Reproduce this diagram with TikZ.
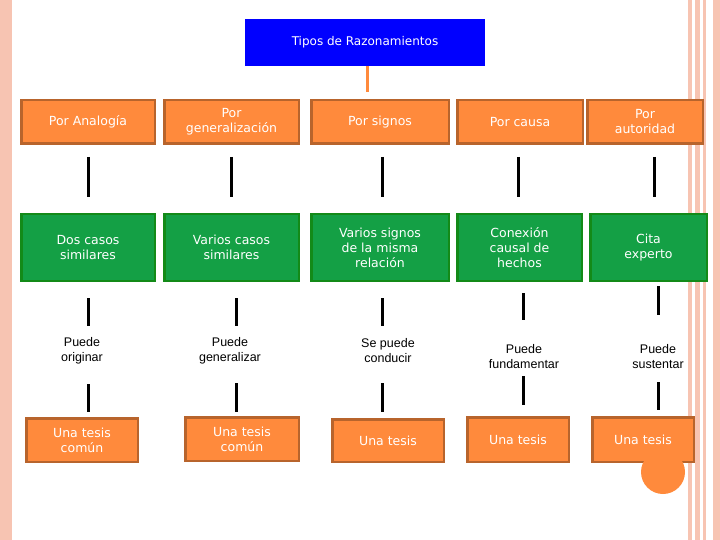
\documentclass[tikz,border=0pt]{standalone}
\usepackage{fontspec}
\setmainfont{Liberation Sans}
\newfontfamily\comic{DejaVu Sans}
\definecolor{org}{HTML}{FF8A3C}
\definecolor{orgb}{HTML}{B8642C}
\definecolor{grn}{HTML}{14A045}
\definecolor{grnb}{HTML}{138A18}
\definecolor{pnk}{HTML}{F7C4B2}
\tikzset{
 box/.style={draw, line width=2.5pt, align=center, font=\comic\fontsize{12.5}{15}\selectfont, inner sep=0pt},
 ob/.style={box, fill=org, draw=orgb, text=white},
 gb/.style={box, fill=grn, draw=grnb, text=white},
 lbl/.style={align=center, font=\fontsize{12.5}{15}\selectfont},
 ln/.style={line width=3pt}
}
\begin{document}
\begin{tikzpicture}[x=1pt,y=-1pt]
\useasboundingbox (0,0) rectangle (720,540);
\fill[white] (0,0) rectangle (720,540);
\fill[pnk] (0,0) rectangle (12,540);
\fill[pnk] (688,0) rectangle (720,540);
\fill[white] (692,0) rectangle (695,540);
\fill[white] (700,0) rectangle (703,540);
\fill[white] (706,0) rectangle (713,540);
\node[fill=blue, minimum width=240pt, minimum height=47pt, text=white, font=\comic\fontsize{12}{14}\selectfont] (top) at (365,42.5) {Tipos de Razonamientos};
\draw[org, line width=3pt] (367,66) -- (367,92);
% row 1
\foreach \n/\a/\b/\t in {a1/20/156/{Por Analogía},b1/163/300/{Por\\generalización},c1/310/450/{Por signos},d1/456/584/{Por causa},e1/586/704/{Por\\autoridad}}{
 \node[ob, minimum width={\b-\a-2.5}, minimum height=43.5pt] (\n) at ({(\a+\b)/2},122) {\t};}
\foreach \n/\a/\b/\t in {a2/20/156/{Dos casos\\similares},b2/163/300/{Varios casos\\similares},c2/310/450/{Varios signos\\de la misma\\relación},d2/456/583/{Conexión\\causal de\\hechos},e2/589/708/{Cita\\experto}}{
 \node[gb, minimum width={\b-\a-2.5}, minimum height=66.5pt] (\n) at ({(\a+\b)/2},247.5) {\t};}
\foreach \n/\x/\y/\t in {a3/82/351/{Puede\\originar},b3/230/351/{Puede\\generalizar},c3/388/351/{Se puede\\conducir},d3/524/357/{Puede\\fundamentar},e3/658/357/{Puede\\sustentar}}{
 \node[lbl] (\n) at (\x,\y) {\t};}
\foreach \n/\a/\b/\c/\d/\t in {a4/25/139/417/463/{Una tesis\\común},b4/184/300/416/462/{Una tesis\\común},c4/331/445/418/463/{Una tesis},d4/466/570/416/463/{Una tesis},e4/591/695/416/463/{Una tesis}}{
 \node[ob, minimum width={\b-\a-2.5}, minimum height={\d-\c-2.5}] (\n) at ({(\a+\b)/2},{(\c+\d)/2}) {\t};}
\fill[org] (663,472) circle (22);
\foreach \x in {88,231,382,518,654} \draw[ln] (\x,157) -- (\x,197);
\foreach \x/\a/\b in {88/298/326,236/298/326,382/298/326,523/293/320,658/286/315} \draw[ln] (\x,\a) -- (\x,\b);
\foreach \x/\a/\b in {88/384/412,236/383/412,382/383/412,523/376/405,658/382/410} \draw[ln] (\x,\a) -- (\x,\b);
\end{tikzpicture}
\end{document}
